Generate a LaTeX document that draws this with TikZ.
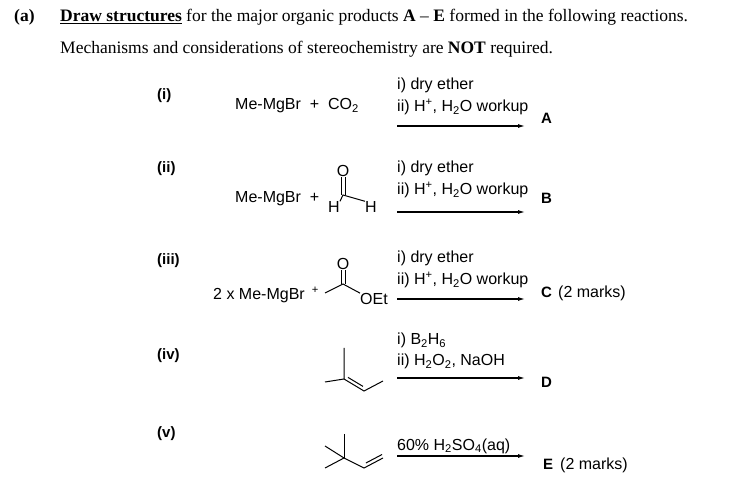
\documentclass[tikz,border=0pt]{standalone}
\usepackage{fontspec}
\usetikzlibrary{arrows.meta,calc}
\setmainfont{Liberation Serif}
\newfontfamily\arial{Liberation Sans}
\begin{document}
\begin{tikzpicture}[x=1pt,y=-1pt,
  hd/.style={font=\fontsize{17.5}{20}\selectfont,anchor=base west,inner sep=0},
  tx/.style={font=\arial\fontsize{16}{18}\selectfont,inner sep=0,anchor=base west},
  lbl/.style={font=\arial\bfseries\fontsize{15}{18}\selectfont,inner sep=0,anchor=base west},
  bond/.style={line width=1pt},
  rxn/.style={line width=1.1pt,-{Latex[length=7pt,width=4pt]}}]
\useasboundingbox (0,0) rectangle (745,486);
\node[hd,font=\bfseries\fontsize{17.5}{20}\selectfont] (a) at (14,22) {(a)};
\node[hd] (h1) at (60,22) {\textbf{\underline{Draw structures}} for the major organic products \textbf{A} -- \textbf{E} formed in the following reactions.};
\node[hd] (h2) at (60,54) {Mechanisms and considerations of stereochemistry are \textbf{NOT} required.};
% labels
\node[lbl] (l1) at (157,100) {(i)};
\node[lbl] (l2) at (157,173) {(ii)};
\node[lbl] (l3) at (157,265) {(iii)};
\node[lbl] (l4) at (157,360) {(iv)};
\node[lbl] (l5) at (157,438) {(v)};
% (i)
\node[tx] (r1) at (235,110) {Me-MgBr \ + \ CO\textsubscript{2}};
\node[tx] (c1a) at (397,90) {i) dry ether};
\node[tx] (c1b) at (397,112) {ii) H\textsuperscript{+}, H\textsubscript{2}O workup};
\coordinate (s1) at (397,126); \coordinate (e1) at (525,126);
\draw[rxn] (s1) -- (e1);
\node[lbl] (A) at (541,124) {A};
% (ii)
\node[tx] (r2) at (235,203) {Me-MgBr \ +};
\node[tx,anchor=center] (H1) at (334,207) {H};
\node[tx,anchor=center] (H2) at (371,207) {H};
\node[tx,anchor=center] (O2) at (343,171) {O};
\coordinate (C2) at (343,195);
\draw[bond] (H1.north east) -- (C2) -- (H2.north west);
\draw[bond] ([xshift=-2]C2) -- ([xshift=-2]O2.south);
\draw[bond] ([xshift=2]C2) -- ([xshift=2]O2.south);
\node[tx] (c2a) at (397,173) {i) dry ether};
\node[tx] (c2b) at (397,195) {ii) H\textsuperscript{+}, H\textsubscript{2}O workup};
\coordinate (s2) at (397,212); \coordinate (e2) at (525,212);
\draw[rxn] (s2) -- (e2);
\node[lbl] (B) at (541,204) {B};
% (iii)
\node[tx] (r3) at (213,300) {2 x Me-MgBr \,\textsuperscript{+}};
\node[tx,anchor=center] (O3) at (343,264) {O};
\node[tx,anchor=center] (OEt) at (374,299) {OEt};
\coordinate (C3) at (343,284);
\coordinate (M3) at (325,293);
\draw[bond] (M3) -- (C3) -- (OEt.north west);
\draw[bond] ([xshift=-2]C3) -- ([xshift=-2]O3.south);
\draw[bond] ([xshift=2]C3) -- ([xshift=2]O3.south);
\node[tx] (c3a) at (397,263) {i) dry ether};
\node[tx] (c3b) at (397,285) {ii) H\textsuperscript{+}, H\textsubscript{2}O workup};
\coordinate (s3) at (397,299); \coordinate (e3) at (525,299);
\draw[rxn] (s3) -- (e3);
\node[lbl] (C) at (541,298) {C};
\node[tx] (m3) at (558,298) {(2 marks)};
% (iv)
\coordinate (a1) at (344,348); \coordinate (a2) at (344,379);
\coordinate (a3) at (325,382); \coordinate (a4) at (364,391); \coordinate (a5) at (383,381);
\draw[bond] (a1) -- (a2) -- (a3);
\draw[bond] (a2) -- (a4) -- (a5);
\draw[bond] ($(a2)!0.2!(a4)+(0,-4)$) -- ($(a2)!0.95!(a4)+(0,-4)$);
\node[tx] (c4a) at (397,345) {i) B\textsubscript{2}H\textsubscript{6}};
\node[tx] (c4b) at (397,366) {ii) H\textsubscript{2}O\textsubscript{2}, NaOH};
\coordinate (s4) at (397,378); \coordinate (e4) at (525,378);
\draw[rxn] (s4) -- (e4);
\node[lbl] (D) at (541,388) {D};
% (v)
\coordinate (b0) at (344,458); \coordinate (b1) at (344,434);
\coordinate (b2) at (325,446); \coordinate (b3) at (325,468);
\coordinate (b4) at (364,468); \coordinate (b5) at (383,458);
\draw[bond] (b1) -- (b0); \draw[bond] (b2) -- (b0) -- (b3);
\draw[bond] (b0) -- (b4) -- (b5);
\draw[bond] ($(b4)!0.1!(b5)+(0,-4)$) -- ($(b4)!0.95!(b5)+(0,-4)$);
\node[tx] (c5) at (397,450) {60\% H\textsubscript{2}SO\textsubscript{4}(aq)};
\coordinate (s5) at (397,456); \coordinate (e5) at (525,456);
\draw[rxn] (s5) -- (e5);
\node[lbl] (E) at (543,470) {E};
\node[tx] (m5) at (560,470) {(2 marks)};
\end{tikzpicture}
\end{document}
